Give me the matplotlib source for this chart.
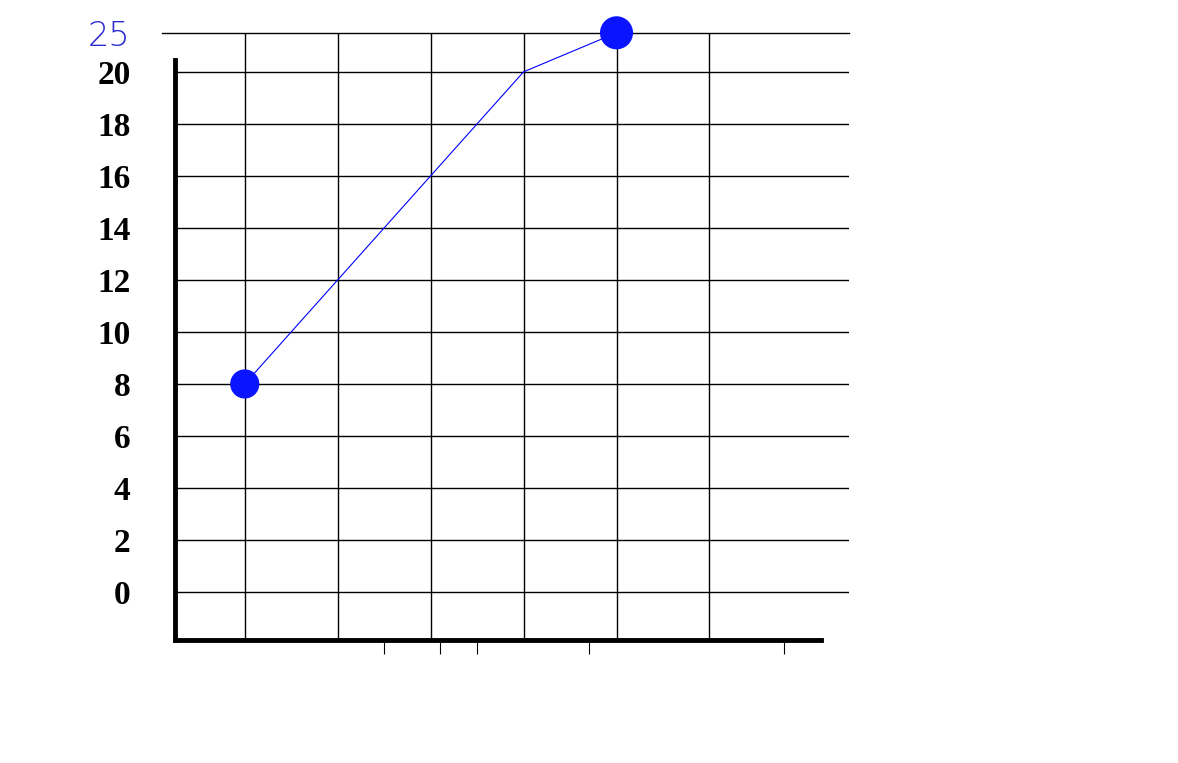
import numpy as np
import matplotlib
matplotlib.use("Agg")
from matplotlib import pyplot as plt

# values
x_vals = [1, 4, 5]
y_vals = [8, 20, 25]
marked = [0, 2]          # only the end points carry a dot
y_ticks = [0, 2, 4, 6, 8, 10, 12, 14, 16, 18, 20, 25]
x_grid = [1, 2, 3, 4, 5, 6]
x_small_ticks = [2.5, 3.1, 3.5, 4.7, 6.8]

# the sketch squeezes everything above 20
def fwd(y):
    y = np.asarray(y, dtype=float)
    return np.where(y <= 20, y, 20 + (y - 20) * 0.3)

def inv(y):
    y = np.asarray(y, dtype=float)
    return np.where(y <= 20, y, 20 + (y - 20) / 0.3)

fig = plt.figure(figsize=(11.78, 7.63), dpi=100)
ax = fig.add_axes([0.1486, 0.161, 0.572, 0.796])
ax.set_yscale("function", functions=(fwd, inv))

ax.plot(x_vals, y_vals, color="#0000ff", lw=0.8, zorder=3, clip_on=False)
mx = [x_vals[i] for i in marked]
my = [y_vals[i] for i in marked]
ax.scatter(mx, my, s=[400, 520], color="#0a14ff", zorder=4, clip_on=False)

ax.set_xlim(0.25, 7.5)
ax.set_ylim(-1.85, 25)

ax.set_yticks(y_ticks)
ax.set_yticklabels([str(t) for t in y_ticks])
for lab in ax.get_yticklabels():
    lab.set_fontfamily("Liberation Serif")
    lab.set_fontweight("bold")
    lab.set_fontsize(24)
    if lab.get_text() == "25":
        lab.set_color("#2a2ad0")
        lab.set_fontfamily("DejaVu Sans")
        lab.set_fontweight("light")
        lab.set_fontsize(24)
ax.tick_params(axis="y", length=0, pad=32)

ax.set_xticks(x_small_ticks)
ax.set_xticklabels([])
ax.tick_params(axis="x", length=10, width=0.8, direction="out")

for yv in y_ticks[:-1]:
    ax.axhline(yv, color="black", lw=1.0, zorder=0)
ax.axhline(y_ticks[-1], xmin=-0.02, color="black", lw=1.0, zorder=0, clip_on=False)
for xv in x_grid:
    ax.axvline(xv, color="black", lw=1.0, zorder=0)

ax.spines["top"].set_visible(False)
ax.spines["right"].set_visible(False)
ax.spines["left"].set_linewidth(3.5)
ax.spines["left"].set_bounds(-1.85, 21.5)
ax.spines["bottom"].set_linewidth(3.5)
ax.spines["bottom"].set_bounds(0.25, 7.2)

fig.savefig("out.png", dpi=100)
